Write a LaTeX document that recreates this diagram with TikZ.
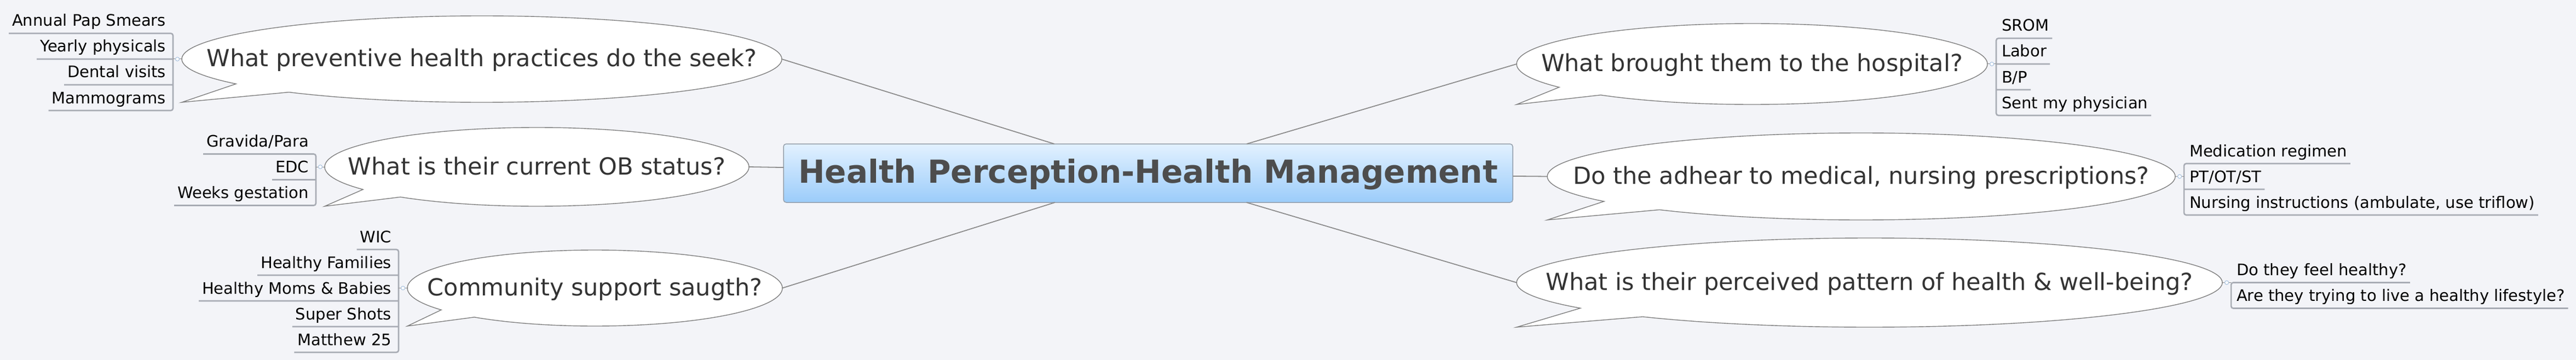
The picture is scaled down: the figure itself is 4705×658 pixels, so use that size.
\documentclass[tikz,border=0pt]{standalone}
\usepackage{fontspec}
\setmainfont{DejaVu Sans}
\usepackage{tikz}
\usetikzlibrary{positioning,calc}

\definecolor{canvas}{RGB}{243,244,248}
\definecolor{linegray}{RGB}{140,140,140}
\definecolor{undergray}{RGB}{168,172,180}
\definecolor{bubblegray}{RGB}{128,128,128}
\definecolor{qgray}{RGB}{51,51,51}
\definecolor{hubtext}{RGB}{77,77,77}
\definecolor{hubtop}{RGB}{226,241,255}
\definecolor{hubbot}{RGB}{155,204,250}
\definecolor{hubedge}{RGB}{150,160,172}
\definecolor{knobblue}{RGB}{165,192,222}

% name, centre, x radius, y radius, text
\newcommand{\callout}[5]{%
  \filldraw[bubble] ($(#2)+(130:#3 and #4)$) arc[start angle=130, end angle=-215, x radius=#3, y radius=#4]
        -- ($(#2)+(-#3,#4)$) -- cycle;
  \node[question, minimum width=2*#3pt, minimum height=2*#4pt] (#1) at (#2) {#5};
}

\begin{document}
\begin{tikzpicture}[x=1pt, y=-1pt,
    bubble/.style={fill=white, draw=bubblegray, line width=1.4pt},
    question/.style={font=\fontsize{43pt}{50pt}\selectfont, text=qgray, inner sep=0pt, outer sep=0pt,
                     text height=28pt, text depth=0pt},
    hub/.style={rectangle, rounded corners=5pt, draw=hubedge, line width=1.5pt, top color=hubtop,
                bottom color=hubbot, text=hubtext, font=\fontsize{58pt}{66pt}\selectfont\bfseries,
                minimum width=1332pt, minimum height=107pt, inner sep=0pt, outer sep=0pt,
                text height=35pt, text depth=0pt},
    item/.style={font=\fontsize{29pt}{35pt}\selectfont, inner xsep=6pt, inner ysep=0pt,
                 text height=34pt, text depth=13pt, outer sep=0pt},
    link/.style={draw=linegray, line width=1.8pt},
    under/.style={draw=undergray, line width=2.6pt, rounded corners=4pt},
    knob/.style={circle, draw=knobblue, fill=white, line width=1pt, inner sep=0pt, minimum size=7pt}]
      \fill[canvas] (0, 0) rectangle (4705, 658);
      \useasboundingbox (0, 0) rectangle (4705, 658);

      % centre
      \node[hub] (hub) at (2097, 316.5) {Health Perception-Health Management};

      % questions
      \callout{prev}{880,108}{548}{79}{What preventive health practices do the seek?}
      \callout{ob}{980.5,305}{387.5}{72}{What is their current OB status?}
      \callout{comm}{1086.5,526.5}{342.5}{69.5}{Community support saugth?}
      \callout{hosp}{3200,117}{430}{74}{What brought them to the hospital?}
      \callout{adh}{3399.5,322.5}{573.5}{79.5}{Do the adhear to medical, nursing prescriptions?}
      \callout{patt}{3414.5,516.5}{644.5}{81.5}{What is their perceived pattern of health \& well-being?}

      \draw[link] (prev.east) -- (hub)
                  (ob.east) -- (hub)
                  (comm.east) -- (hub)
                  (hosp.west) -- (hub)
                  (adh.west) -- (hub)
                  (patt.west) -- (hub);

      % preventive practices
      \node[item, anchor=north east] (p1) at ([xshift=-23pt, yshift=94pt]prev.west) {Annual Pap Smears};
      \node[item, below left=0pt and 0pt of p1.south east] (p2) {Yearly physicals};
      \node[item, below left=0pt and 0pt of p2.south east] (p3) {Dental visits};
      \node[item, below left=0pt and 0pt of p3.south east] (p4) {Mammograms};
      \draw[under] (p1.south west) -- ([xshift=7pt]p1.south east) -- ([xshift=7pt]p4.south east) -- (p4.south west)
                   (p2.south west) -- ([xshift=7pt]p2.south east)
                   (p3.south west) -- ([xshift=7pt]p3.south east);
      \draw[link, line width=1pt] (prev.west) -- ([xshift=-16pt]prev.west) node[knob, pos=.5] (pk) {};

      % OB status
      \node[item, anchor=north east] (o1) at ([xshift=-23pt, yshift=70.5pt]ob.west) {Gravida/Para};
      \node[item, below left=0pt and 0pt of o1.south east] (o2) {EDC};
      \node[item, below left=0pt and 0pt of o2.south east] (o3) {Weeks gestation};
      \draw[under] (o1.south west) -- ([xshift=7pt]o1.south east) -- ([xshift=7pt]o3.south east) -- (o3.south west)
                   (o2.south west) -- ([xshift=7pt]o2.south east);
      \draw[link, line width=1pt] (ob.west) -- ([xshift=-16pt]ob.west) node[knob, pos=.5] (ok) {};

      % community support
      \node[item, anchor=north east] (c1) at ([xshift=-23pt, yshift=117.5pt]comm.west) {WIC};
      \node[item, below left=0pt and 0pt of c1.south east] (c2) {Healthy Families};
      \node[item, below left=0pt and 0pt of c2.south east] (c3) {Healthy Moms \& Babies};
      \node[item, below left=0pt and 0pt of c3.south east] (c4) {Super Shots};
      \node[item, below left=0pt and 0pt of c4.south east] (c5) {Matthew 25};
      \draw[under] (c1.south west) -- ([xshift=7pt]c1.south east) -- ([xshift=7pt]c5.south east) -- (c5.south west)
                   (c2.south west) -- ([xshift=7pt]c2.south east)
                   (c3.south west) -- ([xshift=7pt]c3.south east)
                   (c4.south west) -- ([xshift=7pt]c4.south east);
      \draw[link, line width=1pt] (comm.west) -- ([xshift=-16pt]comm.west) node[knob, pos=.5] (ck) {};

      % hospital
      \node[item, anchor=north west] (h1) at ([xshift=20pt, yshift=94pt]hosp.east) {SROM};
      \node[item, below right=0pt and 0pt of h1.south west] (h2) {Labor};
      \node[item, below right=0pt and 0pt of h2.south west] (h3) {B/P};
      \node[item, below right=0pt and 0pt of h3.south west] (h4) {Sent my physician};
      \draw[under] (h1.south east) -- ([xshift=-4pt]h1.south west) -- ([xshift=-4pt]h4.south west) -- (h4.south east)
                   (h2.south east) -- ([xshift=-4pt]h2.south west)
                   (h3.south east) -- ([xshift=-4pt]h3.south west);
      \draw[link, line width=1pt] (hosp.east) -- ([xshift=16pt]hosp.east) node[knob, pos=.5] (hk) {};

      % prescriptions
      \node[item, anchor=north west] (a1) at ([xshift=20pt, yshift=70.5pt]adh.east) {Medication regimen};
      \node[item, below right=0pt and 0pt of a1.south west] (a2) {PT/OT/ST};
      \node[item, below right=0pt and 0pt of a2.south west] (a3) {Nursing instructions (ambulate, use triflow)};
      \draw[under] (a1.south east) -- ([xshift=-4pt]a1.south west) -- ([xshift=-4pt]a3.south west) -- (a3.south east)
                   (a2.south east) -- ([xshift=-4pt]a2.south west);
      \draw[link, line width=1pt] (adh.east) -- ([xshift=16pt]adh.east) node[knob, pos=.5] (ak) {};

      % pattern of health
      \node[item, anchor=north west] (w1) at ([xshift=20pt, yshift=47pt]patt.east) {Do they feel healthy?};
      \node[item, below right=0pt and 0pt of w1.south west] (w2) {Are they trying to live a healthy lifestyle?};
      \draw[under] (w1.south east) -- ([xshift=-4pt]w1.south west) -- ([xshift=-4pt]w2.south west) -- (w2.south east);
      \draw[link, line width=1pt] (patt.east) -- ([xshift=16pt]patt.east) node[knob, pos=.5] (wk) {};
\end{tikzpicture}
\end{document}
